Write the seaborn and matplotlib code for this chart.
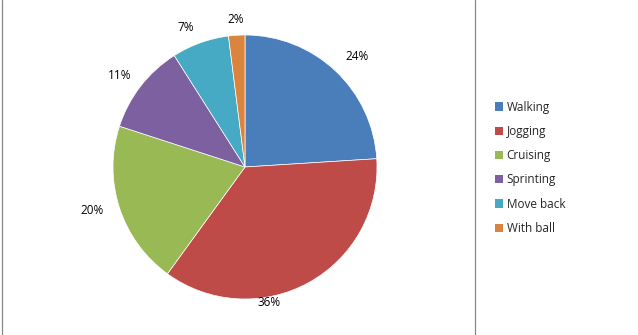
import matplotlib
matplotlib.use("Agg")
import matplotlib.pyplot as plt
import seaborn as sns
from matplotlib.lines import Line2D
from matplotlib.patches import Patch

categories = ["Walking", "Jogging", "Cruising", "Sprinting", "Move back", "With ball"]
values = [24, 36, 20, 11, 7, 2]
colors = ["#4A7EBB", "#BE4B48", "#98B954", "#7D60A0", "#46AAC5", "#DB843D"]

sns.set_theme(style="white")
plt.rcParams['font.family'] = ['Open Sans', 'DejaVu Sans']

W, H = 638, 335
fig = plt.figure(figsize=(W / 100, H / 100), dpi=100)
fig.patch.set_facecolor("white")

cx, cy, r = 245, 168, 132
ax = fig.add_axes([(cx - r) / W, (cy - r) / H, 2 * r / W, 2 * r / H])
wedges, texts, autotexts = ax.pie(
    values, colors=colors, startangle=90, counterclock=False,
    autopct=lambda p: f"{p:.0f}%", pctdistance=1.14,
    wedgeprops=dict(linewidth=0.5, edgecolor="white"),
    textprops=dict(fontsize=8.5, color="black"))
ax.set_xlim(-1, 1)
ax.set_ylim(-1, 1)
ax.set_aspect("equal")
ax.axis("off")
# label placement tweaks to follow the reference
autotexts[0].set_position((0.85, 0.84))
autotexts[1].set_position((0.18, -1.03))
autotexts[2].set_position((-1.16, -0.33))
autotexts[3].set_position((-0.95, 0.69))
autotexts[4].set_position((-0.45, 1.06))
autotexts[5].set_position((-0.07, 1.12))

handles = [Patch(facecolor=c, edgecolor="none") for c in colors]
fig.legend(handles, categories, loc="upper left",
           bbox_to_anchor=(490 / W, 1 - 96 / H), frameon=False,
           fontsize=8.5, labelspacing=0.95, handlelength=0.7, handleheight=0.7,
           handletextpad=0.3, borderaxespad=0)

for px in (2.5, 474.5):
    fig.add_artist(Line2D([px / W, px / W], [0, 1], transform=fig.transFigure,
                          color="#888888", linewidth=0.9))

fig.savefig("out.png", dpi=100)
